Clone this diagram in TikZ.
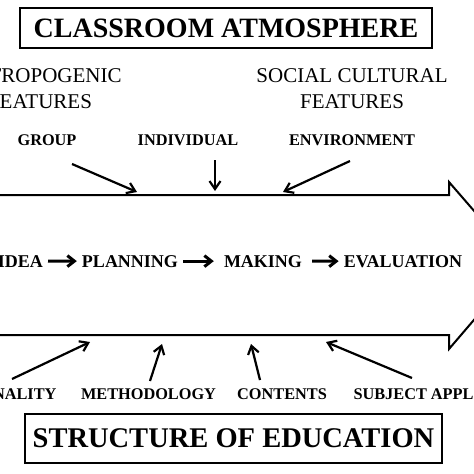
\documentclass[tikz,border=0pt]{standalone}
\usepackage{fontspec}
\setmainfont{Liberation Serif}
\usetikzlibrary{arrows.meta}

\tikzset{
  title/.style={draw,line width=2.5pt,inner sep=0pt,font=\bfseries\fontsize{28}{30}\selectfont},
  feat/.style={anchor=base,align=center,font=\fontsize{21}{26}\selectfont},
  lbl/.style={anchor=base,font=\bfseries\fontsize{16.3}{18}\selectfont},
  stage/.style={anchor=base,inner sep=5pt,font=\bfseries\fontsize{18}{20}\selectfont},
  arr/.style={-{Straight Barb[length=8pt,width=11pt]},line width=2.2pt},
  flow/.style={-{Straight Barb[length=7pt,width=11pt]},line width=3pt}
}

\begin{document}
\begin{tikzpicture}[x=1pt,y=-1pt]
\useasboundingbox (0,0) rectangle (474,474);
\clip (0,0) rectangle (474,474);

% headings
\node[title,minimum width=412pt,minimum height=40pt] (atmo) at (226,28) {CLASSROOM ATMOSPHERE};
\node[title,minimum width=417pt,minimum height=49pt] (struct) at (233.5,438.5) {\fontsize{28.5}{30}\selectfont STRUCTURE OF EDUCATION};

% features (base = last line)
\node[feat] (antro) at (40,108) {ANTROPOGENIC\\FEATURES};
\node[feat] (social) at (352,108) {SOCIAL CULTURAL\\FEATURES};

% top labels
\node[lbl] (group) at (47,145) {GROUP};
\node[lbl] (indiv) at (188,145) {INDIVIDUAL};
\node[lbl] (envir) at (352,145) {ENVIRONMENT};

% big arrow
\draw[line width=2pt,line join=miter] (-10,195) -- (449,195) -- (449,182) -- (521,265)
  -- (449,349) -- (449,335) -- (-10,335);

% stages
\node[stage,anchor=base east] (idea) at (48,267) {IDEA};
\node[stage] (plan) at (130,267) {PLANNING};
\node[stage] (make) at (263,267) {MAKING};
\node[stage] (eval) at (403,267) {EVALUATION};
\draw[flow] (idea) -- (plan);
\draw[flow] (plan.east) -- ([xshift=-5pt]make.west);
\draw[flow] ([xshift=5pt]make.east) -- (eval.west);

% bottom labels
\node[lbl,anchor=base east] (person) at (60,399) {PERSONALITY};
\node[lbl] (method) at (148.5,399) {METHODOLOGY};
\node[lbl] (content) at (282,399) {CONTENTS};
\node[lbl,anchor=base west] (subject) at (350,399) {SUBJECT APPLICATION};

% arrow ends
\coordinate (g0) at (72,164);  \coordinate (g1) at (137,192);
\coordinate (i0) at (215,160); \coordinate (i1) at (215,191);
\coordinate (e0) at (350,161); \coordinate (e1) at (283,192);
\coordinate (p0) at (12,379);  \coordinate (p1) at (90,342);
\coordinate (m0) at (150,381); \coordinate (m1) at (162,344);
\coordinate (c0) at (260,380); \coordinate (c1) at (251,344);
\coordinate (s0) at (412,378); \coordinate (s1) at (326,342);

\draw[arr] (g0) -- (g1);
\draw[arr] (i0) -- (i1);
\draw[arr] (e0) -- (e1);
\draw[arr] (p0) -- (p1);
\draw[arr] (m0) -- (m1);
\draw[arr] (c0) -- (c1);
\draw[arr] (s0) -- (s1);
\end{tikzpicture}
\end{document}
